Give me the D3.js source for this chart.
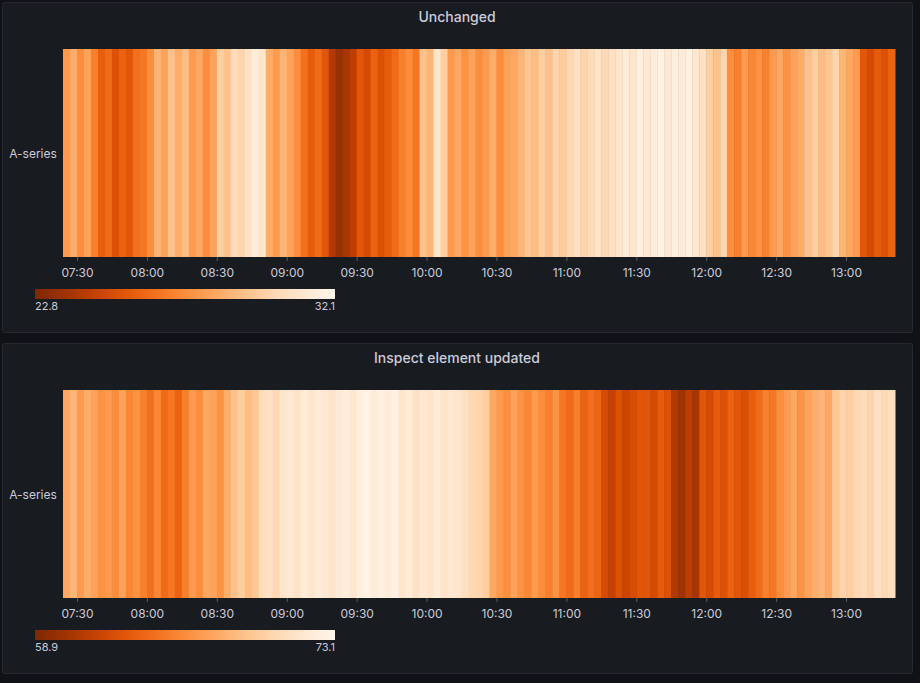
<!DOCTYPE html>
<html><head><meta charset="utf-8">
<script src="https://cdn.jsdelivr.net/npm/d3@7"></script>
<style>body{margin:0;background:#111217;}svg{display:block;font-family:Inter,"Noto Sans",sans-serif;}</style>
</head><body><svg id="c" width="920" height="683"></svg>
<script>
// normalized levels (0 = min colour, 1 = max colour), one per 3-minute bucket from 07:24
const topLevels=[.55,.62,.5,.58,.45, .33,.38,.28,.35,.3,.4, .42,.5, .65,.58,.7,.62,.68, .55,.6,.5,.58, .75,.7,.82,.78,.85,.92,.88, .62,.55,.65,.58,.5, .4,.32,.38,.3, .15,.08,.12,.18, .3,.25,.35,.28,.32,.38, .45,.5,.42, .7,.65,.88,.75, .55,.6,.52,.58,.5, .55,.62,.5,.58,.6,.65, .72,.68,.75,.7,.78,.74, .8,.85,.78,.82,.86,.8,.84,.88, .92,.88,.95,.9,.93,.97,.9,.94,.91,.96,.89,.85, .75,.7,.78, .5,.45,.55,.48,.52,.46, .55,.6,.52,.58,.62, .7,.75,.68,.72,.78,.65, .6,.55, .3,.25,.32,.28,.35];
const bottomLevels=[.6,.65,.55,.62,.58,.52, .55,.5,.58,.48,.52, .45,.4,.48,.38,.42,.35,.45, .55,.5,.6,.58,.52,.62, .7,.75,.68,.72, .82,.85,.8,.88, .9,.86,.92,.88,.93,.9,.87,.91,.94,.89, .95,.98,.93,.96,.92,.97, .88,.92,.85,.9,.87,.93,.86,.9,.88,.84, .8,.78,.75, .6,.55,.5,.58,.52,.48,.55,.5,.45,.52, .42,.38,.45,.35,.4,.36, .25,.2,.28,.22,.26,.3, .3,.25,.32,.28, .15,.1,.18,.12, .3,.25,.32,.28,.35,.3,.27,.33,.38, .45,.42,.5, .55,.6,.52,.58,.62,.65,.6, .72,.78,.75,.8,.82,.78,.85,.8,.83];
const titles=["Unchanged","Inspect element updated"];
const minLabels=["22.8","58.9"];
const maxLabels=["32.1","73.1"];
const seriesName="A-series";
const tickTimes=["07:30","08:00","08:30","09:00","09:30","10:00","10:30","11:00","11:30","12:00","12:30","13:00"];

const svg=d3.select("#c");
const defs=svg.append("defs");
const grad=defs.append("linearGradient").attr("id","lg");
d3.range(0,1.01,0.1).forEach(s=>grad.append("stop").attr("offset",s).attr("stop-color",d3.interpolateOranges(1-s)));
const parse=d3.timeParse("%H:%M");
const t0=parse("07:24"), step=3;
const x=d3.scaleTime().domain([t0,d3.timeMinute.offset(t0,step*119)]).range([63,895]);
const col=d3.scaleSequential(v=>d3.interpolateOranges(1-v)).domain([0,1]);
[topLevels,bottomLevels].forEach((lv,p)=>{
  const oy=p*341;
  const g=svg.append("g").attr("transform",`translate(0,${oy})`);
  g.append("rect").attr("x",2.5).attr("y",2.5).attr("width",910).attr("height",330).attr("rx",2).attr("fill","#181b1f").attr("stroke","#26292f");
  g.append("text").attr("x",457).attr("y",22).attr("text-anchor","middle").attr("fill","#ccccdc").attr("font-size",14).attr("font-weight",500).text(titles[p]);
  g.append("text").attr("x",33).attr("y",158).attr("text-anchor","middle").attr("fill","#ccccdc").attr("font-size",12).text(seriesName);
  g.selectAll("rect.b").data(lv).join("rect").attr("class","b")
   .attr("x",(d,i)=>x(d3.timeMinute.offset(t0,i*step)))
   .attr("width",(d,i)=>x(d3.timeMinute.offset(t0,(i+1)*step))-x(d3.timeMinute.offset(t0,i*step))+0.5)
   .attr("y",49).attr("height",208).attr("fill",d=>col(d));
  const ax=g.append("g").attr("transform","translate(0,257)")
   .call(d3.axisBottom(x).tickValues(tickTimes.map(parse)).tickFormat(d3.timeFormat("%H:%M")).tickSize(4).tickSizeOuter(0));
  ax.select(".domain").remove();
  ax.selectAll("line").attr("stroke","#555a62");
  ax.selectAll("text").attr("fill","#ccccdc").attr("font-size",12).attr("dy","1.1em").attr("font-family","Inter,sans-serif");
  g.append("rect").attr("x",35).attr("y",289).attr("width",300).attr("height",10).attr("fill","url(#lg)");
  g.append("text").attr("x",35).attr("y",310).attr("fill","#ccccdc").attr("font-size",11).text(minLabels[p]);
  g.append("text").attr("x",335).attr("y",310).attr("text-anchor","end").attr("fill","#ccccdc").attr("font-size",11).text(maxLabels[p]);
});
</script></body></html>
